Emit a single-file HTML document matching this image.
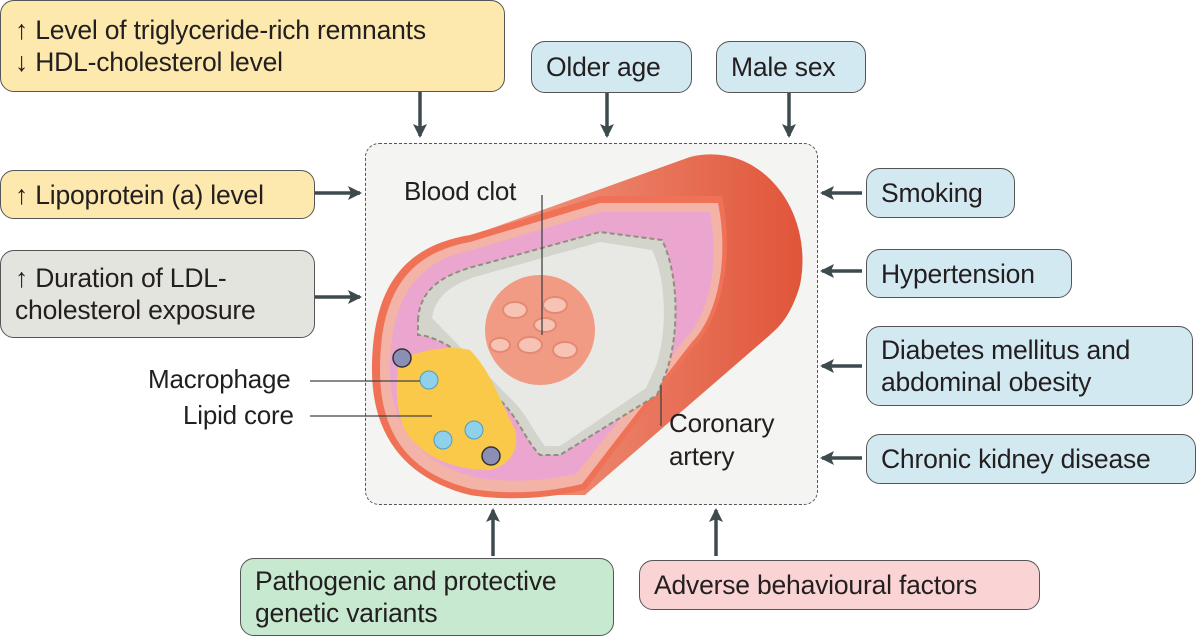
<!DOCTYPE html>
<html><head><meta charset="utf-8"><style>
body{margin:0;width:1200px;height:638px;background:#fff;position:relative;overflow:hidden;font-family:"Liberation Sans",sans-serif;color:#231f20}
.b{position:absolute;box-sizing:border-box;border:1.3px solid #555;border-radius:14px;font-size:26.5px;line-height:32px;padding:0 14px;display:flex;flex-direction:column;justify-content:center;white-space:nowrap;letter-spacing:-0.2px}
.y{background:#fde9ad}.g{background:#e3e4de}.bl{background:#d3e9f1}.gr{background:#c7e9cf}.p{background:#fad4d4}
.l{position:absolute;font-size:26px;white-space:nowrap;letter-spacing:-0.2px}
</style></head><body>
<div style="position:absolute;left:365px;top:143px;width:453px;height:362px;box-sizing:border-box;border:1.3px dashed #555;border-radius:14px;background:#f4f4f2"></div>
<svg width="1200" height="638" style="position:absolute;left:0;top:0">
<defs><linearGradient id="t" x1="0" x2="1"><stop offset="0" stop-color="#f4a38c"/><stop offset="1" stop-color="#e0553a"/></linearGradient>
<marker id="a" markerWidth="14" markerHeight="14" refX="12" refY="7" orient="auto" markerUnits="userSpaceOnUse"><path d="M0,0 L14,7 L0,14 L3,7 Z" fill="#3d4a4e"/></marker></defs>
<g stroke="#3d4a4e" stroke-width="3.5" marker-end="url(#a)">
<line x1="420" y1="92" x2="420" y2="136"/><line x1="607" y1="93" x2="607" y2="136"/><line x1="789" y1="93" x2="789" y2="136"/>
<line x1="315" y1="193" x2="360" y2="193"/><line x1="315" y1="297" x2="360" y2="297"/>
<line x1="862" y1="193" x2="822" y2="193"/><line x1="862" y1="271" x2="822" y2="271"/><line x1="862" y1="366" x2="822" y2="366"/><line x1="862" y1="458" x2="822" y2="458"/>
<line x1="493" y1="556" x2="493" y2="510"/><line x1="716" y1="556" x2="716" y2="510"/>
</g>
<!-- tube body -->
<path d="M445,245 L690,157 C760,140 815,210 800,285 C790,320 775,330 770,335 L585,495 L470,495 Z" fill="url(#t)"/>
<!-- cut rim -->
<path d="M372,370 C372,280 410,245 470,235 L600,196 L722,196 C735,260 720,320 695,345 L585,490 C540,500 500,500 470,495 C410,480 372,440 372,370 Z" fill="#ef7257"/>
<path d="M380,370 C380,285 415,252 470,242 L600,203 L718,203 C730,262 716,318 692,342 L582,484 C540,494 505,494 472,489 C415,475 380,440 380,370 Z" fill="#f3b3a6"/>
<path d="M390,370 C390,292 422,260 472,250 L600,212 L710,212 C720,266 708,316 686,338 L576,474 C540,482 507,482 478,478 C425,465 390,432 390,370 Z" fill="#eba6cf"/>
<path d="M418,320 C420,290 440,275 480,265 L600,232 L662,240 C678,272 680,330 667,370 L657,395 L560,455 L540,455 C525,440 520,420 500,400 L470,360 C450,345 430,335 418,335 Z" fill="#d3d4cc" stroke="#8f907c" stroke-width="2" stroke-dasharray="5,3"/>
<path d="M432,318 C436,295 452,283 485,274 L600,242 L652,250 C666,278 668,330 656,366 L646,388 L560,446 L545,446 C532,430 528,415 510,398 Z" fill="#e8e9e4"/>
<path d="M400,360 C420,350 450,345 470,350 C490,370 500,400 515,430 C520,450 510,465 490,470 C450,470 420,455 405,430 C395,410 395,380 400,360 Z" fill="#fbc94a"/>
<circle cx="540" cy="330" r="55" fill="#f19a84"/>
<g fill="#f7c3b4" stroke="#e58a72" stroke-width="2"><ellipse cx="515" cy="310" rx="12" ry="8"/><ellipse cx="555" cy="305" rx="12" ry="8"/><ellipse cx="530" cy="345" rx="12" ry="8"/><ellipse cx="565" cy="350" rx="12" ry="8"/><ellipse cx="500" cy="345" rx="10" ry="7"/><ellipse cx="545" cy="325" rx="11" ry="7"/></g>
<g fill="#8fd0ea" stroke="#4e9bc0"><circle cx="429" cy="380" r="9"/><circle cx="443" cy="440" r="9"/><circle cx="474" cy="430" r="9"/></g>
<g fill="#8b8fb5" stroke="#333" stroke-width="1.5"><circle cx="402" cy="358" r="9"/><circle cx="491" cy="456" r="9"/></g>
<g stroke="#444" stroke-width="1.3" fill="none">
<line x1="542" y1="195" x2="542" y2="335"/><line x1="310" y1="381" x2="420" y2="381"/><line x1="310" y1="416" x2="432" y2="416"/><line x1="661" y1="385" x2="661" y2="426"/></g>
</svg>
<div class="b y" style="left:0;top:0;width:505px;height:92px"><div>↑ Level of triglyceride-rich remnants</div><div>↓ HDL-cholesterol level</div></div>
<div class="b bl" style="left:531px;top:41px;width:161px;height:52px">Older age</div>
<div class="b bl" style="left:716px;top:41px;width:150px;height:52px">Male sex</div>
<div class="b y" style="left:0;top:170px;width:315px;height:49px">↑ Lipoprotein (a) level</div>
<div class="b g" style="left:0;top:250px;width:315px;height:88px"><div>↑ Duration of LDL-</div><div>cholesterol exposure</div></div>
<div class="b bl" style="left:866px;top:168px;width:149px;height:50px">Smoking</div>
<div class="b bl" style="left:866px;top:249px;width:206px;height:49px">Hypertension</div>
<div class="b bl" style="left:866px;top:326px;width:327px;height:80px"><div>Diabetes mellitus and</div><div>abdominal obesity</div></div>
<div class="b bl" style="left:866px;top:434px;width:330px;height:50px">Chronic kidney disease</div>
<div class="b gr" style="left:240px;top:558px;width:374px;height:78px"><div>Pathogenic and protective</div><div>genetic variants</div></div>
<div class="b p" style="left:639px;top:560px;width:401px;height:50px">Adverse behavioural factors</div>
<div class="l" style="left:404px;top:176px">Blood clot</div>
<div class="l" style="left:148px;top:364px">Macrophage</div>
<div class="l" style="left:183px;top:400px">Lipid core</div>
<div class="l" style="left:669px;top:407px;line-height:33px">Coronary<br>artery</div>
</body></html>
